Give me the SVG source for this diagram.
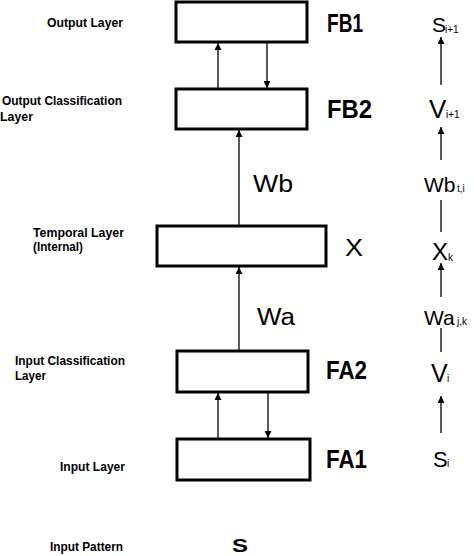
<svg xmlns="http://www.w3.org/2000/svg" width="474" height="556" viewBox="0 0 474 556">
<style>
.box{fill:#fff;stroke:#000;stroke-width:3}
.ln{stroke:#000;stroke-width:1.3;fill:none}
.lbl{font-family:"Liberation Sans",Arial,sans-serif;font-size:12px;font-weight:bold;fill:#000}
.big{font-family:"Liberation Sans",Arial,sans-serif;font-size:25px;font-weight:bold;fill:#000}
.w{font-family:"Liberation Sans",Arial,sans-serif;font-size:23px;fill:#000}
.sym{font-family:"Liberation Sans",Arial,sans-serif;font-size:24px;fill:#000}
.sub{font-family:"Liberation Sans",Arial,sans-serif;font-size:10px;fill:#000}
</style>
<defs>
<marker id="ah" viewBox="0 0 10 10" refX="10" refY="5" markerWidth="7" markerHeight="7" markerUnits="userSpaceOnUse" orient="auto">
<path d="M0,0 L10,5 L0,10 Z" fill="#000"/>
</marker>
</defs>
<rect width="474" height="556" fill="#fff"/>
<g id="side-labels">
<text class="lbl" x="47" y="27" textLength="76" lengthAdjust="spacingAndGlyphs">Output Layer</text>
<text class="lbl" x="2" y="105" textLength="120" lengthAdjust="spacingAndGlyphs">Output Classification</text>
<text class="lbl" x="0" y="121" textLength="33" lengthAdjust="spacingAndGlyphs">Layer</text>
<text class="lbl" x="33" y="237" textLength="91" lengthAdjust="spacingAndGlyphs">Temporal Layer</text>
<text class="lbl" x="33" y="251" textLength="50" lengthAdjust="spacingAndGlyphs">(Internal)</text>
<text class="lbl" x="15" y="365" textLength="110" lengthAdjust="spacingAndGlyphs">Input Classification</text>
<text class="lbl" x="15" y="380" textLength="31" lengthAdjust="spacingAndGlyphs">Layer</text>
<text class="lbl" x="60" y="471" textLength="65" lengthAdjust="spacingAndGlyphs">Input Layer</text>
<text class="lbl" x="50" y="551" textLength="73" lengthAdjust="spacingAndGlyphs">Input Pattern</text>
</g>
<g id="FB1"><rect class="box" x="176" y="2" width="131" height="40"/><text class="big" x="327" y="32" textLength="36" lengthAdjust="spacingAndGlyphs">FB1</text></g>
<g id="FB2"><rect class="box" x="176" y="89" width="131" height="40"/><text class="big" x="327" y="118" textLength="45" lengthAdjust="spacingAndGlyphs">FB2</text></g>
<g id="X"><rect class="box" x="157" y="226" width="169" height="40"/><text class="big" x="345" y="256" textLength="18" lengthAdjust="spacingAndGlyphs" style="font-weight:normal;font-size:23px">X</text></g>
<g id="FA2"><rect class="box" x="177" y="351" width="131" height="41"/><text class="big" x="326" y="379" textLength="41" lengthAdjust="spacingAndGlyphs">FA2</text></g>
<g id="FA1"><rect class="box" x="177" y="439" width="133" height="41"/><text class="big" x="326" y="468" textLength="41" lengthAdjust="spacingAndGlyphs">FA1</text></g>
<g id="weights">
<text class="w" x="253" y="192" textLength="40" lengthAdjust="spacingAndGlyphs">Wb</text>
<text class="w" x="257" y="325" textLength="38" lengthAdjust="spacingAndGlyphs">Wa</text>
<text class="big" x="232" y="552" textLength="16" lengthAdjust="spacingAndGlyphs" style="font-size:19px">S</text>
</g>
<g id="sequence">
<text class="sym" x="432" y="32" style="font-size:21px">S</text><text class="sub" x="445" y="33">i+1</text>
<text class="sym" x="429" y="118" style="font-size:26px">V</text><text class="sub" x="446" y="118">i+1</text>
<text class="sym" x="424" y="192" style="font-size:21px">Wb</text><text class="sub" x="457" y="192">t,i</text>
<text class="sym" x="432" y="260">X</text><text class="sub" x="448" y="261">k</text>
<text class="sym" x="424" y="325" style="font-size:21px">Wa</text><text class="sub" x="457" y="325">j,k</text>
<text class="sym" x="431" y="382" style="font-size:25px">V</text><text class="sub" x="447" y="382">i</text>
<text class="sym" x="433" y="467" style="font-size:22px">S</text><text class="sub" x="447" y="467">i</text>
</g>
<g id="connectors">
<line class="ln" x1="218" y1="89" x2="218" y2="43" marker-end="url(#ah)"/>
<line class="ln" x1="267" y1="43" x2="267" y2="88" marker-end="url(#ah)"/>
<line class="ln" x1="239" y1="225" x2="239" y2="130" marker-end="url(#ah)"/>
<line class="ln" x1="239" y1="350" x2="239" y2="267" marker-end="url(#ah)"/>
<line class="ln" x1="218" y1="438" x2="218" y2="393" marker-end="url(#ah)"/>
<line class="ln" x1="268" y1="393" x2="268" y2="438" marker-end="url(#ah)"/>
<line class="ln" x1="441" y1="85" x2="441" y2="37" marker-end="url(#ah)"/>
<line class="ln" x1="441" y1="160" x2="441" y2="127" marker-end="url(#ah)"/>
<line class="ln" x1="441" y1="200" x2="441" y2="232"/>
<line class="ln" x1="441" y1="297" x2="441" y2="263" marker-end="url(#ah)"/>
<line class="ln" x1="441" y1="328" x2="441" y2="352"/>
<line class="ln" x1="441" y1="433" x2="441" y2="396" marker-end="url(#ah)"/>
</g>
</svg>
